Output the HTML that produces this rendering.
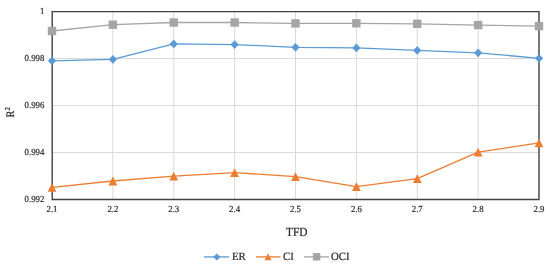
<!DOCTYPE html>
<html><head><meta charset="utf-8"><title>R2 vs TFD</title>
<style>
html,body{margin:0;padding:0;background:#fff;}
body{width:550px;height:269px;overflow:hidden;}
svg{display:block;}
text{font-family:"Liberation Serif", "Times New Roman", serif;fill:#262626;stroke:#262626;stroke-width:0.18px;text-rendering:geometricPrecision;}
.ax{font-size:8.8px;}
.ti{font-size:11.4px;}
.lg{font-size:10.8px;}
</style></head>
<body>
<svg width="550" height="269" viewBox="0 0 550 269">
<rect width="550" height="269" fill="#fff"/>
<line x1="52" y1="58.5" x2="539" y2="58.5" stroke="#D9D9D9" stroke-width="1"/>
<line x1="52" y1="105.5" x2="539" y2="105.5" stroke="#D9D9D9" stroke-width="1"/>
<line x1="52" y1="152.5" x2="539" y2="152.5" stroke="#D9D9D9" stroke-width="1"/>
<line x1="112.88" y1="11.5" x2="112.88" y2="199.5" stroke="#D9D9D9" stroke-width="1"/>
<line x1="173.75" y1="11.5" x2="173.75" y2="199.5" stroke="#D9D9D9" stroke-width="1"/>
<line x1="234.62" y1="11.5" x2="234.62" y2="199.5" stroke="#D9D9D9" stroke-width="1"/>
<line x1="295.5" y1="11.5" x2="295.5" y2="199.5" stroke="#D9D9D9" stroke-width="1"/>
<line x1="356.38" y1="11.5" x2="356.38" y2="199.5" stroke="#D9D9D9" stroke-width="1"/>
<line x1="417.25" y1="11.5" x2="417.25" y2="199.5" stroke="#D9D9D9" stroke-width="1"/>
<line x1="478.12" y1="11.5" x2="478.12" y2="199.5" stroke="#D9D9D9" stroke-width="1"/>
<path d="M52.2 11.6H539V199.55H52.2Z" fill="none" stroke="#404040" stroke-width="1.4"/>
<polyline points="52,31 112.88,24.7 173.75,22.5 234.62,22.5 295.5,23.4 356.38,23.3 417.25,23.8 478.12,25.1 539,26.1" fill="none" stroke="#A5A5A5" stroke-width="1.3" stroke-linejoin="round"/>
<polyline points="52,60.8 112.88,59.4 173.75,43.9 234.62,44.6 295.5,47.3 356.38,47.9 417.25,50.4 478.12,52.8 539,58.3" fill="none" stroke="#5B9BD5" stroke-width="1.3" stroke-linejoin="round"/>
<polyline points="52,187.4 112.88,181 173.75,176.2 234.62,172.6 295.5,176.6 356.38,186.6 417.25,178.7 478.12,152.1 539,142.9" fill="none" stroke="#ED7D31" stroke-width="1.3" stroke-linejoin="round"/>
<rect x="47.8" y="26.8" width="8.4" height="8.4" fill="#A5A5A5"/>
<rect x="108.67" y="20.5" width="8.4" height="8.4" fill="#A5A5A5"/>
<rect x="169.55" y="18.3" width="8.4" height="8.4" fill="#A5A5A5"/>
<rect x="230.43" y="18.3" width="8.4" height="8.4" fill="#A5A5A5"/>
<rect x="291.3" y="19.2" width="8.4" height="8.4" fill="#A5A5A5"/>
<rect x="352.18" y="19.1" width="8.4" height="8.4" fill="#A5A5A5"/>
<rect x="413.05" y="19.6" width="8.4" height="8.4" fill="#A5A5A5"/>
<rect x="473.93" y="20.9" width="8.4" height="8.4" fill="#A5A5A5"/>
<rect x="534.8" y="21.9" width="8.4" height="8.4" fill="#A5A5A5"/>
<path d="M52 56.45L56.1 60.8L52 65.15L47.9 60.8Z" fill="#5B9BD5"/>
<path d="M112.88 55.05L116.97 59.4L112.88 63.75L108.78 59.4Z" fill="#5B9BD5"/>
<path d="M173.75 39.55L177.85 43.9L173.75 48.25L169.65 43.9Z" fill="#5B9BD5"/>
<path d="M234.62 40.25L238.72 44.6L234.62 48.95L230.53 44.6Z" fill="#5B9BD5"/>
<path d="M295.5 42.95L299.6 47.3L295.5 51.65L291.4 47.3Z" fill="#5B9BD5"/>
<path d="M356.38 43.55L360.48 47.9L356.38 52.25L352.27 47.9Z" fill="#5B9BD5"/>
<path d="M417.25 46.05L421.35 50.4L417.25 54.75L413.15 50.4Z" fill="#5B9BD5"/>
<path d="M478.12 48.45L482.23 52.8L478.12 57.15L474.02 52.8Z" fill="#5B9BD5"/>
<path d="M539 53.95L543.1 58.3L539 62.65L534.9 58.3Z" fill="#5B9BD5"/>
<path d="M52 183L56.4 191.8L47.6 191.8Z" fill="#ED7D31"/>
<path d="M112.88 176.6L117.28 185.4L108.47 185.4Z" fill="#ED7D31"/>
<path d="M173.75 171.8L178.15 180.6L169.35 180.6Z" fill="#ED7D31"/>
<path d="M234.62 168.2L239.03 177L230.22 177Z" fill="#ED7D31"/>
<path d="M295.5 172.2L299.9 181L291.1 181Z" fill="#ED7D31"/>
<path d="M356.38 182.2L360.77 191L351.98 191Z" fill="#ED7D31"/>
<path d="M417.25 174.3L421.65 183.1L412.85 183.1Z" fill="#ED7D31"/>
<path d="M478.12 147.7L482.52 156.5L473.73 156.5Z" fill="#ED7D31"/>
<path d="M539 138.5L543.4 147.3L534.6 147.3Z" fill="#ED7D31"/>
<text transform="translate(44.4 14) scale(1 1.05)" text-anchor="end" class="ax">1</text>
<text transform="translate(44.4 61) scale(1 1.05)" text-anchor="end" class="ax">0.998</text>
<text transform="translate(44.4 108) scale(1 1.05)" text-anchor="end" class="ax">0.996</text>
<text transform="translate(44.4 155) scale(1 1.05)" text-anchor="end" class="ax">0.994</text>
<text transform="translate(44.4 202) scale(1 1.05)" text-anchor="end" class="ax">0.992</text>
<text transform="translate(52 212) scale(1 1.05)" text-anchor="middle" class="ax">2.1</text>
<text transform="translate(112.88 212) scale(1 1.05)" text-anchor="middle" class="ax">2.2</text>
<text transform="translate(173.75 212) scale(1 1.05)" text-anchor="middle" class="ax">2.3</text>
<text transform="translate(234.62 212) scale(1 1.05)" text-anchor="middle" class="ax">2.4</text>
<text transform="translate(295.5 212) scale(1 1.05)" text-anchor="middle" class="ax">2.5</text>
<text transform="translate(356.38 212) scale(1 1.05)" text-anchor="middle" class="ax">2.6</text>
<text transform="translate(417.25 212) scale(1 1.05)" text-anchor="middle" class="ax">2.7</text>
<text transform="translate(478.12 212) scale(1 1.05)" text-anchor="middle" class="ax">2.8</text>
<text transform="translate(539 212) scale(1 1.05)" text-anchor="middle" class="ax">2.9</text>
<text transform="translate(296.8 235.6) scale(1 1.08)" text-anchor="middle" class="ti">TFD</text>
<text transform="translate(14.1 112.3) rotate(-90) scale(0.92 1)" text-anchor="middle" class="ti">R<tspan dy="-4" font-size="7.6">2</tspan></text>
<line x1="204" y1="256.9" x2="229" y2="256.9" stroke="#5B9BD5" stroke-width="1.3"/>
<path d="M216.8 253.4L220.4 257L216.8 260.6L213.2 257Z" fill="#5B9BD5"/>
<text transform="translate(231.9 260.2) scale(1 1.03)" class="lg">ER</text>
<line x1="256" y1="256.9" x2="280.5" y2="256.9" stroke="#ED7D31" stroke-width="1.3"/>
<path d="M268 253.2L271.5 260.2L264.5 260.2Z" fill="#ED7D31"/>
<text transform="translate(283.0 260.2) scale(1 1.03)" class="lg">CI</text>
<line x1="304" y1="256.9" x2="329" y2="256.9" stroke="#A5A5A5" stroke-width="1.3"/>
<rect x="312.9" y="253.1" width="7.4" height="7.4" fill="#A5A5A5"/>
<text transform="translate(331.0 260.2) scale(1 1.03)" class="lg">OCI</text>
</svg>
</body></html>
